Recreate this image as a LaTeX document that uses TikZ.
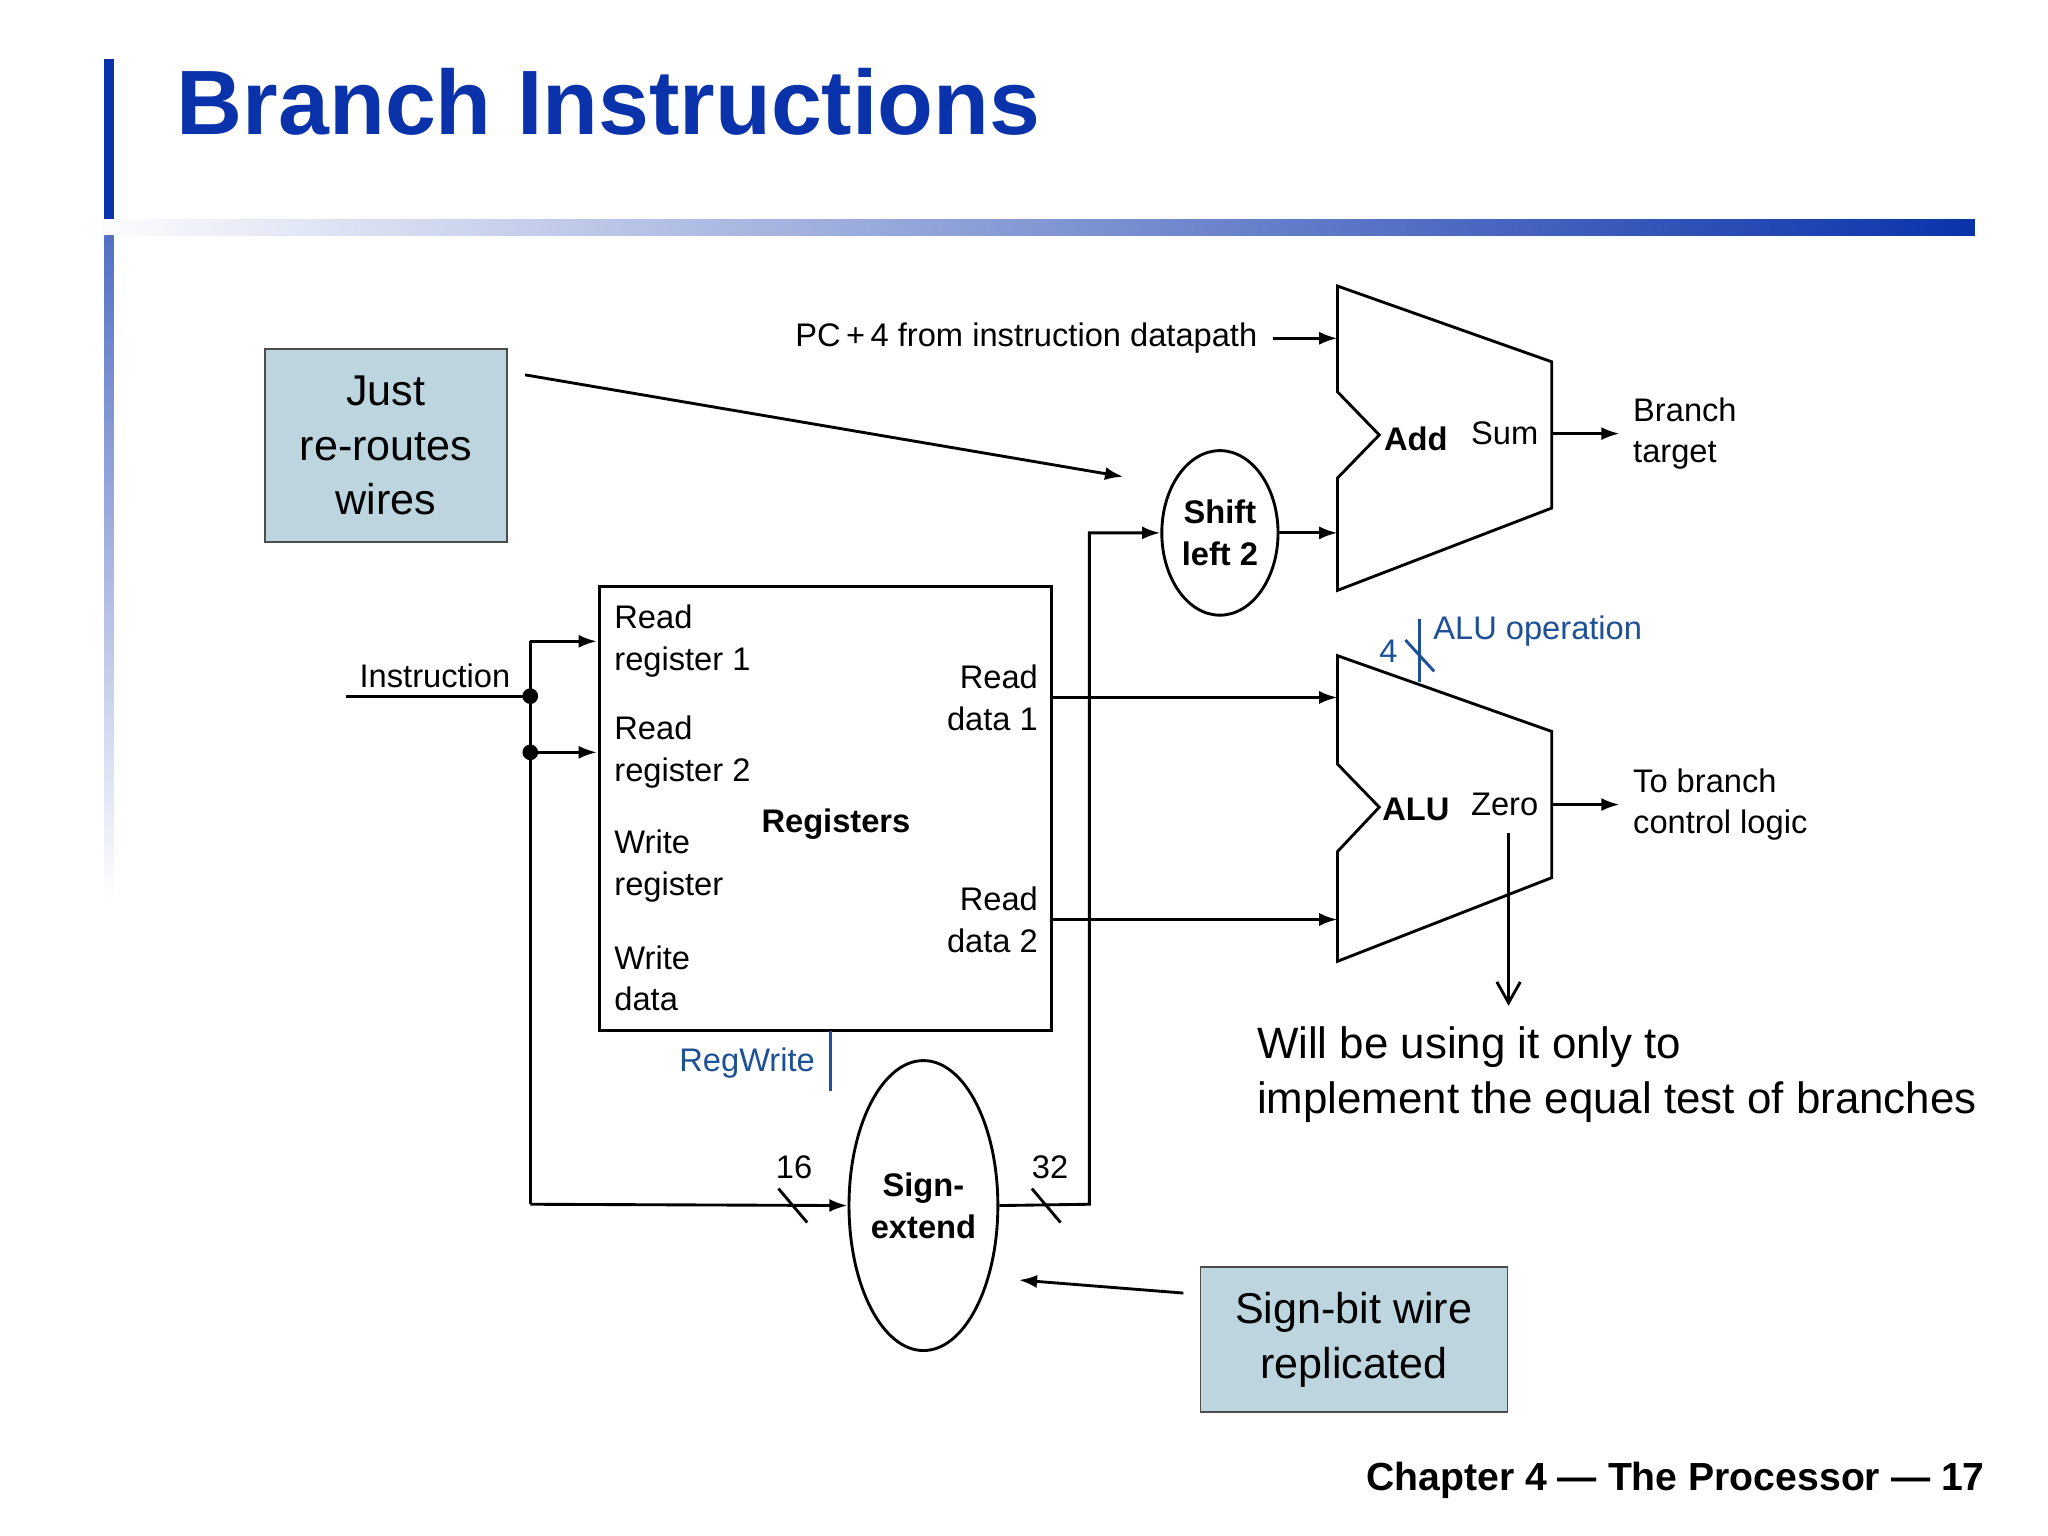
\documentclass[tikz,border=0pt]{standalone}
\usepackage{fontspec}
\setmainfont{Liberation Sans}
\usetikzlibrary{arrows.meta,shapes.geometric}
\begin{document}
\begin{tikzpicture}[x=0.5pt,y=-0.5pt,
  w/.style={line width=1.1pt},
  ar/.style={w,-{Latex[length=7pt,width=5pt]}},
  lab/.style={font=\fontsize{12.5}{16}\selectfont,inner sep=0pt},
  bl/.style={lab,font=\fontsize{12.5}{16}\selectfont\bfseries},
  note/.style={draw=black!70,fill=cyan!10!teal!30!white,line width=0.6pt,font=\fontsize{16.5}{21}\selectfont,align=center}]
\definecolor{tb}{RGB}{10,50,170}
\definecolor{lb}{RGB}{30,80,150}
\useasboundingbox (0,0) rectangle (1568,1176);
\fill[white] (0,0) rectangle (1568,1176);
% decorations
\fill[tb] (80,45) rectangle (87,168);
\shade[left color=white,right color=tb] (60,168) rectangle (1512,180);
\shade[top color=tb!70,bottom color=white] (80,180) rectangle (87,690);
\node[anchor=base west,inner sep=0pt,text=tb,font=\fontsize{35}{40}\selectfont\bfseries] (title) at (135,103) {Branch Instructions};
% notes
\node[note,minimum width=92.5pt,minimum height=74pt] (n1) at (295.5,341) {Just\\re-routes\\wires};
\node[note,minimum width=117.5pt,minimum height=55.5pt] (n2) at (1036.5,1025.5) {Sign-bit wire\\replicated};
% Add
\draw[w] (1024,219) -- (1188,277) -- (1188,389) -- (1024,452) -- (1024,366) -- (1056,333) -- (1024,300) -- cycle;
\node[bl] (addl) at (1084,336) {Add};
\node[lab] (sum) at (1152,332) {Sum};
\coordinate (addin1) at (1024,259);
\coordinate (addin2) at (1024,408);
\coordinate (addout) at (1188,332);
% ALU
\draw[w] (1024,502) -- (1188,560) -- (1188,672) -- (1024,736) -- (1024,652) -- (1056,618) -- (1024,585) -- cycle;
\node[bl] (alul) at (1084,620) {ALU};
\node[lab] (zero) at (1152,616) {Zero};
\coordinate (aluin1) at (1024,534);
\coordinate (aluin2) at (1024,704);
\coordinate (aluout) at (1188,616);
% ALU op
\draw[lb,w] (1087,474) -- (1087,522);
\draw[lb,w] (1076,490) -- (1098,514);
\node[lab,text=lb] (four) at (1063,499) {4};
\node[lab,text=lb,anchor=west] (aluop) at (1097,483) {ALU operation};
% text outputs
\node[lab,anchor=west,align=left] (bt) at (1250,332) {Branch\\target};
\node[lab,anchor=west,align=left] (tb2) at (1250,616) {To branch\\control logic};
\coordinate (bte) at (1240,332);
\coordinate (tbe) at (1240,616);
\draw[ar] (addout) -- (bte);
\draw[ar] (aluout) -- (tbe);
% PC+4
\node[lab,anchor=east] (pc) at (963,259) {PC\,+\,4 from instruction datapath};
\draw[ar] (pc.east)++(12,0) -- (addin1);
% shift
\node[draw,w,ellipse,minimum width=44.5pt,minimum height=63pt,inner sep=0pt,align=center,font=\fontsize{12.5}{16}\selectfont\bfseries] (sh) at (934,408) {Shift\\left 2};
\draw[ar] (sh.east) -- (addin2);
% registers
\node[draw,w,minimum width=173pt,minimum height=170pt,inner sep=0pt] (reg) at (632,619) {};
\node[bl] (regl) at (640,631) {Registers};
\node[lab,anchor=west,align=left] (rr1) at (470,491) {Read\\register 1};
\node[lab,anchor=west,align=left] (rr2) at (470,576) {Read\\register 2};
\node[lab,anchor=west,align=left] (wr) at (470,663) {Write\\register};
\node[lab,anchor=west,align=left] (wd) at (470,749) {Write\\data};
\node[lab,anchor=east,align=right] (rd1) at (795,534) {Read\\data 1};
\node[lab,anchor=east,align=right] (rd2) at (795,704) {Read\\data 2};
\draw[ar] (805,534) -- (aluin1);
\draw[ar] (805,704) -- (aluin2);
% instruction
\node[lab,anchor=south] (instr) at (333,527) {Instruction};
\coordinate (i0) at (265,533);
\coordinate (j1) at (406,533);
\coordinate (j2) at (406,576);
\coordinate (jt) at (406,491);
\coordinate (jb) at (406,922);
\draw[w] (i0) -- (j1);
\draw[w] (jt) -- (jb);
\fill (j1) circle (6);
\fill (j2) circle (6);
\draw[ar] (jt) -- (457,491);
\draw[ar] (j2) -- (457,576);
% sign extend
\node[draw,w,ellipse,minimum width=56pt,minimum height=111pt,inner sep=0pt,align=center,font=\fontsize{12.5}{16}\selectfont\bfseries] (se) at (707,923) {Sign-\\extend};
\draw[ar] (jb) -- (se.west);
\draw[w] (596,910) -- (618,936);
\node[lab] (n16) at (608,894) {16};
\draw[w] (790,910) -- (812,936);
\node[lab] (n32) at (804,894) {32};
\coordinate (c1) at (834,922);
\coordinate (c2) at (834,408);
\draw[ar] (se.east) -- (c1) -- (c2) -- (sh.west);
% regwrite
\node[lab,text=lb] (rw) at (572,814) {RegWrite};
\draw[lb,w] (636,789) -- (636,835);
% zero note
\coordinate (z1) at (1155,638);
\coordinate (z2) at (1155,770);
\draw[w,-{Straight Barb[length=8pt,width=9pt]}] (z1) -- (z2);
\node[anchor=west,align=left,inner sep=0pt,font=\fontsize{16.8}{21}\selectfont] (will) at (962,823) {Will be using it only to\\implement the equal test of branches};
% note arrows
\coordinate (a1) at (402,287);
\coordinate (a2) at (860,365);
\draw[ar] (a1) -- (a2);
\coordinate (b1) at (906,990);
\coordinate (b2) at (780,980);
\draw[ar] (b1) -- (b2);
% footer
\node[anchor=base east,inner sep=0pt,font=\fontsize{15}{18}\selectfont\bfseries] (foot) at (1520,1141) {Chapter 4 — The Processor — 17};
\end{tikzpicture}
\end{document}
